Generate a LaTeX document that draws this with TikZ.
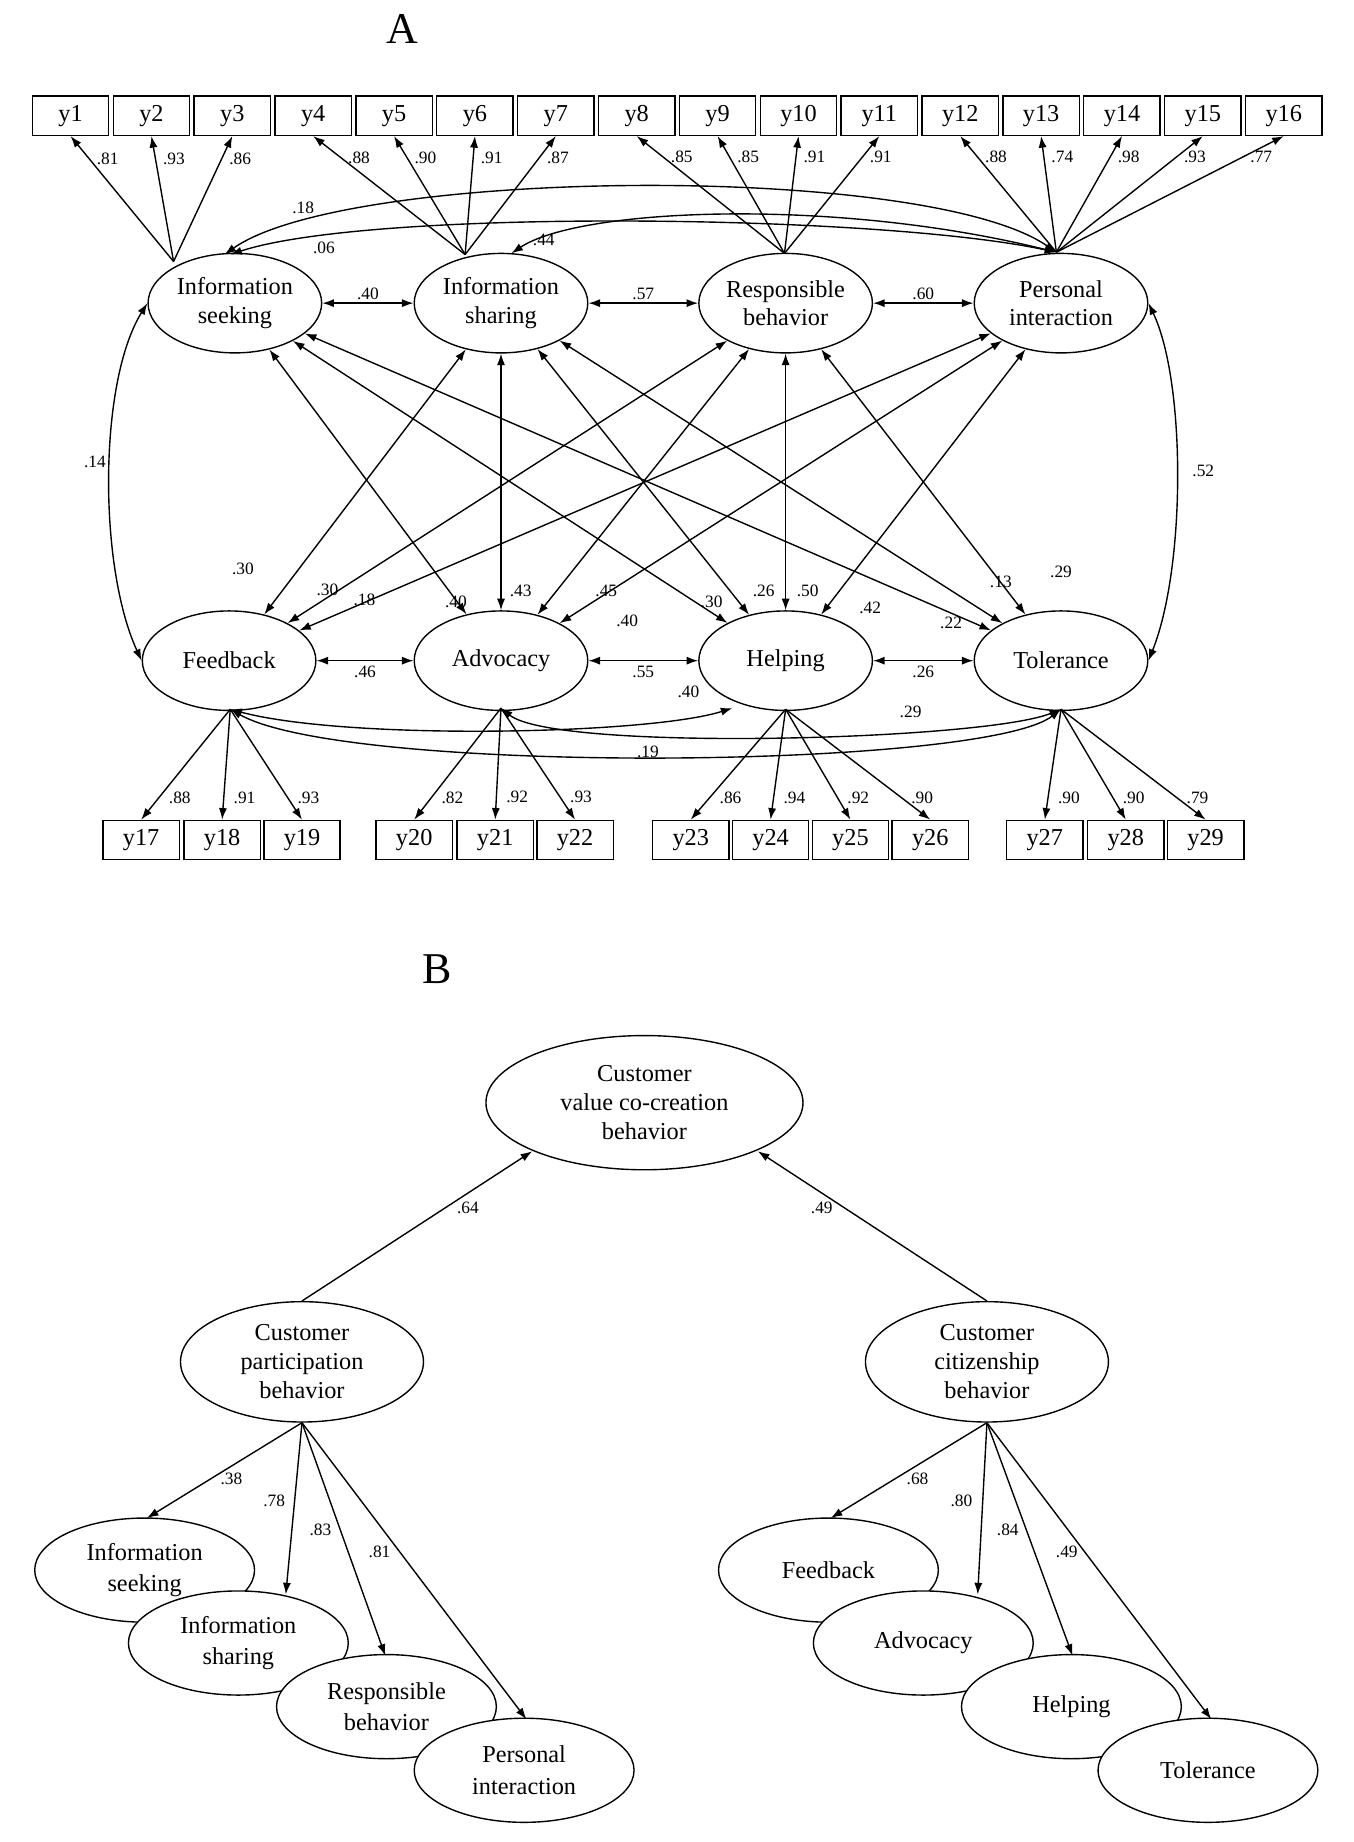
\documentclass[tikz,border=0pt]{standalone}
\usepackage{fontspec}
\setmainfont{Liberation Serif}
\usetikzlibrary{shapes.geometric,arrows.meta}
\begin{document}
\begin{tikzpicture}[x=0.5pt,y=-0.5pt,
  lw/.style={line width=0.6pt},
  lat/.style={ellipse,draw,lw,inner sep=0pt,minimum width=75pt,minimum height=43pt,align=center,font=\fontsize{10.5}{12.5}\selectfont,fill=white},
  latb/.style={ellipse,draw,lw,inner sep=0pt,minimum width=95pt,minimum height=45pt,align=center,font=\fontsize{10.5}{13.5}\selectfont,fill=white},
  box/.style={draw,lw,minimum width=33pt,minimum height=17pt,inner sep=0pt,font=\fontsize{10.5}{12}\selectfont},
  lab/.style={font=\fontsize{7.5}{9}\selectfont,inner sep=1pt},
  ar/.style={lw,-{Latex[length=5pt,width=3.5pt]}},
  dar/.style={lw,{Latex[length=5pt,width=3.5pt]}-{Latex[length=5pt,width=3.5pt]}},
  ttl/.style={font=\fontsize{19}{22}\selectfont}]
\useasboundingbox (0,0) rectangle (1170,1592);
\node[ttl] (tA) at (348,25) {A};
\node[ttl] (tB) at (378,838) {B};
% top boxes
\foreach \i in {1,...,16}{\node[box] (y\i) at ({61+69.9*(\i-1)},100) {y\i};}
\foreach \i/\x in {17/122,18/192,19/261,20/358,21/428,22/497,23/597,24/666,25/735,26/804,27/903,28/973,29/1042}{\node[box] (y\i) at (\x,726) {y\i};}
% latents
\node[lat] (IS) at (203,262) {Information\\seeking};
\node[lat] (ISh) at (433,262) {Information\\sharing};
\node[lat] (RB) at (679,262) {Responsible\\behavior};
\node[lat] (PI) at (917,262) {Personal\\interaction};
\node[lat] (F) at (198,571) {Feedback};
\node[lat] (A) at (433,571) {Advocacy};
\node[lat] (H) at (679,571) {Helping};
\node[lat] (T) at (917,571) {Tolerance};
\coordinate (oIS) at (150,226);
\coordinate (oISh) at (402,220);
\coordinate (oRB) at (678,219);
\coordinate (oPI) at (913,218);
\coordinate (oF) at (199,613);
\coordinate (oA) at (433,612);
\coordinate (oH) at (679,613);
\coordinate (oT) at (917,613);
% loadings
\foreach \o/\y/\l in {oIS/1/.81,oIS/2/.93,oIS/3/.86,oISh/4/.88,oISh/5/.90,oISh/6/.91,oISh/7/.87,oRB/8/.85,oRB/9/.85,oRB/10/.91,oRB/11/.91,oPI/12/.88,oPI/13/.74,oPI/14/.98,oPI/15/.93,oPI/16/.77}
  {\draw[ar] (\o) -- (y\y.south) node[lab,pos=0.82,right=2pt] {\l};}
\foreach \o/\y/\l in {oF/17/.88,oF/18/.91,oF/19/.93,oA/20/.82,oA/21/.92,oA/22/.93,oH/23/.86,oH/24/.94,oH/25/.92,oH/26/.90,oT/27/.90,oT/28/.90,oT/29/.79}
  {\draw[ar] (\o) -- (y\y.north) node[lab,pos=0.8,right=3pt] {\l};}
% horizontal correlations
\draw[dar] (IS) -- (ISh) node[lab,midway,above] {.40};
\draw[dar] (ISh) -- (RB) node[lab,midway,above] {.57};
\draw[dar] (RB) -- (PI) node[lab,midway,above] {.60};
\draw[dar] (F) -- (A) node[lab,midway,below=1pt] {.46};
\draw[dar] (A) -- (H) node[lab,midway,below=1pt] {.55};
\draw[dar] (H) -- (T) node[lab,midway,below=1pt] {.26};
% top curves
\coordinate (c18) at (194,220);
\coordinate (c06) at (199,220);
\coordinate (c44) at (442,219);
\draw[dar] (oPI) .. controls (800,140) and (300,145) .. (c18);
\draw[dar] (oPI) .. controls (760,185) and (320,180) .. (c06);
\draw[dar] (oPI) .. controls (720,170) and (500,180) .. (c44);
\node[lab] (l18) at (262,180) {.18};
\node[lab] (l06) at (280,214) {.06};
\node[lab] (l44) at (470,207) {.44};
% side curves
\draw[dar] (IS.west) .. controls (85,330) and (85,490) .. (F.west);
\draw[dar] (PI.east) .. controls (1025,330) and (1025,490) .. (T.east);
\node[lab] (l14) at (82,399) {.14};
\node[lab] (l52) at (1040,407) {.52};
% bottom curves
\coordinate (hH) at (633,612);
\draw[dar] (oF) .. controls (300,640) and (560,635) .. (hH);
\draw[dar] (oA) .. controls (480,650) and (850,640) .. (oT);
\draw[dar] (oF) .. controls (300,670) and (850,665) .. (oT);
\node[lab] (l40b) at (595,598) {.40};
\node[lab] (l29b) at (787,615) {.29};
\node[lab] (l19b) at (560,650) {.19};
% cross correlations
\draw[dar] (ISh) -- (F); \draw[dar] (RB) -- (F); \draw[dar] (PI) -- (F);
\draw[dar] (IS) -- (A); \draw[dar] (ISh) -- (A); \draw[dar] (RB) -- (A); \draw[dar] (PI) -- (A);
\draw[dar] (IS) -- (H); \draw[dar] (ISh) -- (H); \draw[dar] (RB) -- (H); \draw[dar] (PI) -- (H);
\draw[dar] (IS) -- (T); \draw[dar] (ISh) -- (T); \draw[dar] (RB) -- (T);
\foreach \n/\x/\y/\t in {a/210/492/.30,b/283/510/.30,c/315/518/.18,d/394/520/.40,e/450/511/.43,f/524/511/.45,g/542/537/.40,h/615/520/.30,i/660/511/.26,j/698/511/.50,k/752/525/.42,l/865/503/.13,m/822/538/.22,n/917/494/.29}
  {\node[lab] (x\n) at (\x,\y) {\t};}
% ---------- B ----------
\node[lat,minimum width=137pt,minimum height=58pt] (CV) at (557,953) {Customer\\value co-creation\\behavior};
\node[lat,minimum width=105pt,minimum height=52pt] (CPB) at (261,1177) {Customer\\participation\\behavior};
\node[lat,minimum width=105pt,minimum height=52pt] (CCB) at (853,1177) {Customer\\citizenship\\behavior};
\coordinate (cv1) at (460,995);
\coordinate (cv2) at (655,995);
\draw[ar] (CPB.north) -- (cv1) node[lab,pos=0.62,right=4pt] {.64};
\draw[ar] (CCB.north) -- (cv2) node[lab,pos=0.62,left=4pt] {.49};
\node[latb] (bIS) at (125,1357) {Information\\seeking};
\node[latb] (bISh) at (206,1420) {Information\\sharing};
\node[latb] (bRB) at (334,1475) {Responsible\\behavior};
\node[latb] (bPI) at (453,1530) {Personal\\interaction};
\node[latb] (bF) at (716,1357) {Feedback};
\node[latb] (bA) at (798,1420) {Advocacy};
\node[latb] (bH) at (926,1475) {Helping};
\node[latb] (bT) at (1044,1530) {Tolerance};
\coordinate (e1) at (127,1312); \coordinate (e2) at (247,1378);
\coordinate (e3) at (333,1431); \coordinate (e4) at (455,1486);
\coordinate (f1) at (718,1312); \coordinate (f2) at (845,1378);
\coordinate (f3) at (927,1431); \coordinate (f4) at (1047,1486);
\draw[ar] (CPB.south) -- (e1); \draw[ar] (CPB.south) -- (e2);
\draw[ar] (CPB.south) -- (e3); \draw[ar] (CPB.south) -- (e4);
\draw[ar] (CCB.south) -- (f1); \draw[ar] (CCB.south) -- (f2);
\draw[ar] (CCB.south) -- (f3); \draw[ar] (CCB.south) -- (f4);
\foreach \n/\x/\y/\t in {p1/200/1278/.38,p2/237/1297/.78,p3/277/1322/.83,p4/328/1341/.81,q1/793/1278/.68,q2/831/1297/.80,q3/871/1322/.84,q4/922/1341/.49}
  {\node[lab] (\n) at (\x,\y) {\t};}
\end{tikzpicture}
\end{document}
